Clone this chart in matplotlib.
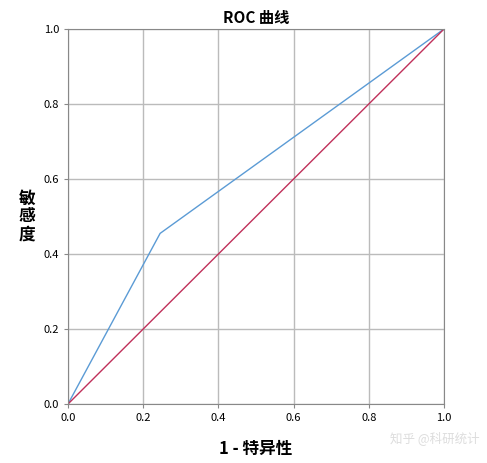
import matplotlib
matplotlib.use("Agg")
import matplotlib.pyplot as plt

plt.rcParams['font.family'] = ['Noto Sans CJK SC', 'DejaVu Sans']

fpr = [0.0, 0.245, 1.0]
tpr = [0.0, 0.455, 1.0]
ref = [0.0, 1.0]
ticks = [0.0, 0.2, 0.4, 0.6, 0.8, 1.0]
tick_labels = ["0.0", "0.2", "0.4", "0.6", "0.8", "1.0"]

fig = plt.figure(figsize=(4.87, 4.63), dpi=100)
ax = fig.add_axes([68/487, 59/463, 376/487, 375/463])
ax.plot(fpr, tpr, color='#5b9bd5', lw=1)
ax.plot(ref, ref, color='#c0305a', lw=1)
ax.set_xlim(0, 1); ax.set_ylim(0, 1)
ax.set_xticks(ticks); ax.set_yticks(ticks)
ax.set_xticklabels(tick_labels, fontsize=8); ax.set_yticklabels(tick_labels, fontsize=8)
ax.grid(True, color='#bbbbbb', lw=1)
ax.set_axisbelow(True)
for s in ax.spines.values():
    s.set_color('#888888')
ax.tick_params(length=3, color='#888888')
ax.set_title("ROC 曲线", fontsize=11, fontweight='bold', pad=4)
ax.set_xlabel("1 - 特异性", fontsize=12, fontweight='bold', labelpad=12)
ax.set_ylabel("敏\n感\n度", fontsize=12, fontweight='bold', rotation=0, va='center', labelpad=12, linespacing=1.0)
fig.text(0.985, 0.045, "知乎 @科研统计", fontsize=9, color='#dddddd', ha='right')
fig.savefig("out.png", dpi=100)
